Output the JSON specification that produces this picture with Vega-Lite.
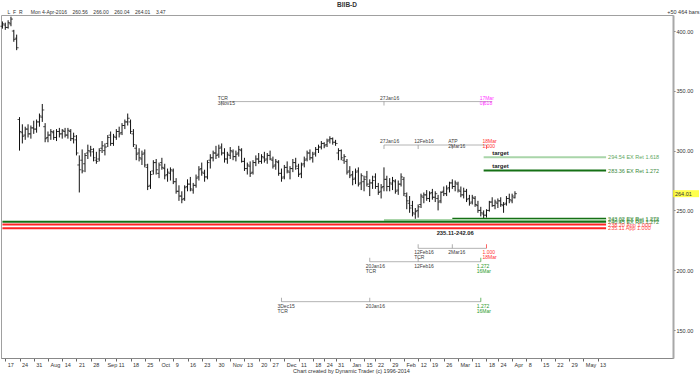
{
  "$schema": "https://vega.github.io/schema/vega-lite/v6.json",
  "width": 672,
  "height": 343,
  "autosize": {"type": "none"},
  "padding": {"left": 1, "top": 15, "right": 27, "bottom": 17},
  "background": "#ffffff",
  "config": {"font": "Liberation Sans", "view": {"stroke": "#a0a0a0", "strokeWidth": 1}},
  "title": {"text": "BIIB-D", "fontSize": 6.5, "fontWeight": "bold", "color": "#333333", "anchor": "middle", "dx": 10, "offset": 1},
  "datasets": {
    "bars": [
      {"date":"2015-07-16","open":404,"high":408,"low":402,"close":406},
      {"date":"2015-07-17","open":405,"high":407,"low":401,"close":403},
      {"date":"2015-07-20","open":403,"high":409,"low":402,"close":407},
      {"date":"2015-07-21","open":406,"high":412,"low":404,"close":410},
      {"date":"2015-07-22","open":400,"high":401,"low":391,"close":393},
      {"date":"2015-07-23","open":394,"high":397,"low":384,"close":386},
      {"date":"2015-07-24","open":326,"high":328,"low":300,"close":316},
      {"date":"2015-07-27","open":315,"high":322,"low":306,"close":312},
      {"date":"2015-07-28","open":313,"high":320,"low":309,"close":318},
      {"date":"2015-07-29","open":318,"high":322,"low":311,"close":314},
      {"date":"2015-07-30","open":314,"high":321,"low":310,"close":319},
      {"date":"2015-07-31","open":319,"high":325,"low":314,"close":318},
      {"date":"2015-08-03","open":318,"high":326,"low":315,"close":324},
      {"date":"2015-08-04","open":324,"high":331,"low":320,"close":329},
      {"date":"2015-08-05","open":328,"high":339,"low":324,"close":334},
      {"date":"2015-08-06","open":320,"high":323,"low":307,"close":310},
      {"date":"2015-08-07","open":311,"high":316,"low":307,"close":313},
      {"date":"2015-08-10","open":313,"high":318,"low":309,"close":316},
      {"date":"2015-08-11","open":315,"high":317,"low":309,"close":311},
      {"date":"2015-08-12","open":311,"high":318,"low":308,"close":316},
      {"date":"2015-08-13","open":316,"high":319,"low":311,"close":314},
      {"date":"2015-08-14","open":314,"high":318,"low":310,"close":317},
      {"date":"2015-08-17","open":316,"high":319,"low":311,"close":313},
      {"date":"2015-08-18","open":313,"high":319,"low":310,"close":317},
      {"date":"2015-08-19","open":316,"high":318,"low":308,"close":310},
      {"date":"2015-08-20","open":310,"high":315,"low":306,"close":312},
      {"date":"2015-08-21","open":309,"high":313,"low":296,"close":298},
      {"date":"2015-08-24","open":288,"high":296,"low":265,"close":284},
      {"date":"2015-08-25","open":292,"high":301,"low":281,"close":283},
      {"date":"2015-08-26","open":289,"high":298,"low":282,"close":296},
      {"date":"2015-08-27","open":298,"high":305,"low":293,"close":300},
      {"date":"2015-08-28","open":299,"high":304,"low":295,"close":301},
      {"date":"2015-08-31","open":299,"high":302,"low":291,"close":294},
      {"date":"2015-09-01","open":292,"high":299,"low":289,"close":291},
      {"date":"2015-09-02","open":293,"high":302,"low":291,"close":300},
      {"date":"2015-09-03","open":302,"high":308,"low":298,"close":304},
      {"date":"2015-09-04","open":300,"high":306,"low":296,"close":303},
      {"date":"2015-09-08","open":306,"high":313,"low":303,"close":311},
      {"date":"2015-09-09","open":313,"high":316,"low":304,"close":306},
      {"date":"2015-09-10","open":306,"high":314,"low":304,"close":312},
      {"date":"2015-09-11","open":311,"high":318,"low":309,"close":316},
      {"date":"2015-09-14","open":316,"high":320,"low":311,"close":314},
      {"date":"2015-09-15","open":315,"high":323,"low":313,"close":321},
      {"date":"2015-09-16","open":321,"high":326,"low":318,"close":324},
      {"date":"2015-09-17","open":324,"high":331,"low":321,"close":327},
      {"date":"2015-09-18","open":324,"high":326,"low":314,"close":316},
      {"date":"2015-09-21","open":314,"high":318,"low":303,"close":305},
      {"date":"2015-09-22","open":302,"high":305,"low":292,"close":297},
      {"date":"2015-09-23","open":298,"high":302,"low":291,"close":294},
      {"date":"2015-09-24","open":293,"high":300,"low":288,"close":297},
      {"date":"2015-09-25","open":298,"high":301,"low":286,"close":288},
      {"date":"2015-09-28","open":286,"high":289,"low":267,"close":270},
      {"date":"2015-09-29","open":271,"high":283,"low":268,"close":280},
      {"date":"2015-09-30","open":283,"high":292,"low":280,"close":290},
      {"date":"2015-10-01","open":290,"high":293,"low":280,"close":284},
      {"date":"2015-10-02","open":281,"high":290,"low":277,"close":288},
      {"date":"2015-10-05","open":290,"high":294,"low":284,"close":286},
      {"date":"2015-10-06","open":285,"high":289,"low":276,"close":279},
      {"date":"2015-10-07","open":280,"high":285,"low":274,"close":282},
      {"date":"2015-10-08","open":281,"high":286,"low":275,"close":284},
      {"date":"2015-10-09","open":283,"high":285,"low":272,"close":274},
      {"date":"2015-10-12","open":274,"high":277,"low":264,"close":266},
      {"date":"2015-10-13","open":266,"high":271,"low":258,"close":262},
      {"date":"2015-10-14","open":262,"high":266,"low":256,"close":259},
      {"date":"2015-10-15","open":260,"high":271,"low":258,"close":269},
      {"date":"2015-10-16","open":270,"high":276,"low":266,"close":272},
      {"date":"2015-10-19","open":272,"high":278,"low":266,"close":268},
      {"date":"2015-10-20","open":267,"high":273,"low":264,"close":271},
      {"date":"2015-10-21","open":271,"high":280,"low":269,"close":277},
      {"date":"2015-10-22","open":278,"high":287,"low":275,"close":284},
      {"date":"2015-10-23","open":285,"high":290,"low":279,"close":282},
      {"date":"2015-10-26","open":281,"high":284,"low":274,"close":278},
      {"date":"2015-10-27","open":278,"high":292,"low":276,"close":290},
      {"date":"2015-10-28","open":292,"high":297,"low":285,"close":294},
      {"date":"2015-10-29","open":294,"high":300,"low":291,"close":298},
      {"date":"2015-10-30","open":298,"high":304,"low":293,"close":296},
      {"date":"2015-11-02","open":297,"high":305,"low":294,"close":302},
      {"date":"2015-11-03","open":303,"high":306,"low":296,"close":298},
      {"date":"2015-11-04","open":298,"high":302,"low":290,"close":293},
      {"date":"2015-11-05","open":293,"high":299,"low":289,"close":297},
      {"date":"2015-11-06","open":296,"high":303,"low":293,"close":300},
      {"date":"2015-11-09","open":299,"high":301,"low":292,"close":295},
      {"date":"2015-11-10","open":295,"high":300,"low":291,"close":297},
      {"date":"2015-11-11","open":298,"high":304,"low":295,"close":301},
      {"date":"2015-11-12","open":300,"high":302,"low":290,"close":291},
      {"date":"2015-11-13","open":291,"high":294,"low":283,"close":285},
      {"date":"2015-11-16","open":285,"high":290,"low":280,"close":288},
      {"date":"2015-11-17","open":287,"high":291,"low":278,"close":281},
      {"date":"2015-11-18","open":282,"high":292,"low":280,"close":290},
      {"date":"2015-11-19","open":290,"high":296,"low":287,"close":293},
      {"date":"2015-11-20","open":293,"high":298,"low":289,"close":291},
      {"date":"2015-11-23","open":291,"high":297,"low":289,"close":295},
      {"date":"2015-11-24","open":294,"high":299,"low":290,"close":292},
      {"date":"2015-11-25","open":293,"high":298,"low":289,"close":296},
      {"date":"2015-11-27","open":296,"high":300,"low":292,"close":293},
      {"date":"2015-11-30","open":292,"high":295,"low":285,"close":287},
      {"date":"2015-12-01","open":288,"high":293,"low":284,"close":291},
      {"date":"2015-12-02","open":290,"high":292,"low":279,"close":281},
      {"date":"2015-12-03","open":281,"high":285,"low":274,"close":277},
      {"date":"2015-12-04","open":278,"high":288,"low":276,"close":286},
      {"date":"2015-12-07","open":286,"high":291,"low":281,"close":283},
      {"date":"2015-12-08","open":282,"high":287,"low":276,"close":285},
      {"date":"2015-12-09","open":285,"high":293,"low":282,"close":290},
      {"date":"2015-12-10","open":290,"high":294,"low":284,"close":287},
      {"date":"2015-12-11","open":285,"high":289,"low":278,"close":280},
      {"date":"2015-12-14","open":281,"high":290,"low":277,"close":288},
      {"date":"2015-12-15","open":289,"high":295,"low":286,"close":292},
      {"date":"2015-12-16","open":293,"high":300,"low":291,"close":298},
      {"date":"2015-12-17","open":298,"high":301,"low":292,"close":294},
      {"date":"2015-12-18","open":294,"high":299,"low":290,"close":297},
      {"date":"2015-12-21","open":298,"high":303,"low":295,"close":301},
      {"date":"2015-12-22","open":301,"high":305,"low":298,"close":303},
      {"date":"2015-12-23","open":303,"high":308,"low":301,"close":306},
      {"date":"2015-12-24","open":306,"high":307,"low":302,"close":304},
      {"date":"2015-12-28","open":305,"high":310,"low":303,"close":308},
      {"date":"2015-12-29","open":309,"high":312,"low":306,"close":310},
      {"date":"2015-12-30","open":310,"high":311,"low":305,"close":307},
      {"date":"2015-12-31","open":307,"high":309,"low":304,"close":306},
      {"date":"2016-01-04","open":298,"high":302,"low":292,"close":300},
      {"date":"2016-01-05","open":300,"high":301,"low":292,"close":294},
      {"date":"2016-01-06","open":292,"high":297,"low":289,"close":295},
      {"date":"2016-01-07","open":291,"high":293,"low":280,"close":282},
      {"date":"2016-01-08","open":283,"high":287,"low":277,"close":279},
      {"date":"2016-01-11","open":280,"high":283,"low":271,"close":276},
      {"date":"2016-01-12","open":277,"high":285,"low":272,"close":282},
      {"date":"2016-01-13","open":283,"high":286,"low":270,"close":272},
      {"date":"2016-01-14","open":273,"high":281,"low":267,"close":279},
      {"date":"2016-01-15","open":274,"high":279,"low":266,"close":276},
      {"date":"2016-01-19","open":278,"high":283,"low":270,"close":272},
      {"date":"2016-01-20","open":270,"high":276,"low":262,"close":273},
      {"date":"2016-01-21","open":273,"high":279,"low":268,"close":275},
      {"date":"2016-01-22","open":278,"high":281,"low":268,"close":270},
      {"date":"2016-01-25","open":270,"high":273,"low":263,"close":265},
      {"date":"2016-01-26","open":266,"high":272,"low":260,"close":269},
      {"date":"2016-01-27","open":270,"high":286,"low":266,"close":276},
      {"date":"2016-01-28","open":276,"high":279,"low":266,"close":270},
      {"date":"2016-01-29","open":270,"high":277,"low":266,"close":273},
      {"date":"2016-02-01","open":272,"high":278,"low":267,"close":275},
      {"date":"2016-02-02","open":274,"high":276,"low":264,"close":266},
      {"date":"2016-02-03","open":267,"high":275,"low":263,"close":272},
      {"date":"2016-02-04","open":272,"high":281,"low":270,"close":278},
      {"date":"2016-02-05","open":276,"high":278,"low":262,"close":264},
      {"date":"2016-02-08","open":262,"high":265,"low":251,"close":258},
      {"date":"2016-02-09","open":256,"high":262,"low":248,"close":252},
      {"date":"2016-02-10","open":254,"high":258,"low":245,"close":248},
      {"date":"2016-02-11","open":247,"high":252,"low":243,"close":249},
      {"date":"2016-02-12","open":250,"high":255,"low":244,"close":253},
      {"date":"2016-02-16","open":255,"high":264,"low":252,"close":262},
      {"date":"2016-02-17","open":261,"high":265,"low":256,"close":263},
      {"date":"2016-02-18","open":263,"high":267,"low":258,"close":260},
      {"date":"2016-02-19","open":260,"high":266,"low":257,"close":264},
      {"date":"2016-02-22","open":265,"high":268,"low":259,"close":261},
      {"date":"2016-02-23","open":261,"high":266,"low":257,"close":264},
      {"date":"2016-02-24","open":260,"high":263,"low":250,"close":257},
      {"date":"2016-02-25","open":258,"high":266,"low":256,"close":265},
      {"date":"2016-02-26","open":266,"high":270,"low":262,"close":264},
      {"date":"2016-02-29","open":264,"high":271,"low":262,"close":268},
      {"date":"2016-03-01","open":269,"high":274,"low":265,"close":273},
      {"date":"2016-03-02","open":273,"high":276,"low":268,"close":270},
      {"date":"2016-03-03","open":270,"high":275,"low":266,"close":273},
      {"date":"2016-03-04","open":272,"high":274,"low":265,"close":267},
      {"date":"2016-03-07","open":266,"high":270,"low":261,"close":263},
      {"date":"2016-03-08","open":263,"high":269,"low":260,"close":266},
      {"date":"2016-03-09","open":266,"high":268,"low":257,"close":259},
      {"date":"2016-03-10","open":260,"high":263,"low":254,"close":256},
      {"date":"2016-03-11","open":257,"high":263,"low":255,"close":261},
      {"date":"2016-03-14","open":260,"high":262,"low":253,"close":255},
      {"date":"2016-03-15","open":254,"high":258,"low":248,"close":250},
      {"date":"2016-03-16","open":250,"high":253,"low":245,"close":248},
      {"date":"2016-03-17","open":247,"high":250,"low":243.5,"close":246},
      {"date":"2016-03-18","open":246,"high":251,"low":244,"close":250},
      {"date":"2016-03-21","open":250,"high":258,"low":249,"close":257},
      {"date":"2016-03-22","open":257,"high":261,"low":253,"close":254},
      {"date":"2016-03-23","open":254,"high":259,"low":251,"close":257},
      {"date":"2016-03-24","open":256,"high":260,"low":252,"close":258},
      {"date":"2016-03-28","open":258,"high":261,"low":253,"close":255},
      {"date":"2016-03-29","open":254,"high":257,"low":248,"close":255},
      {"date":"2016-03-30","open":256,"high":262,"low":254,"close":260},
      {"date":"2016-03-31","open":260,"high":264,"low":256,"close":259},
      {"date":"2016-04-01","open":258,"high":264,"low":256,"close":262},
      {"date":"2016-04-04","open":260.56,"high":266,"low":260.04,"close":264.01}
    ],
    "tlines": [
      {"start":"2015-11-03","end":"2016-03-22","price":341},
      {"start":"2016-01-27","end":"2016-03-18","price":304.7},
      {"start":"2016-02-12","end":"2016-03-18","price":218.3},
      {"start":"2016-01-20","end":"2016-03-16","price":207.1},
      {"start":"2015-12-03","end":"2016-03-16","price":173.7}
    ],
    "tmarks": [
      {"date":"2015-11-03","price":341,"side":"up","kind":"date","text":"TCR\n3Nov15"},
      {"date":"2016-01-27","price":341,"side":"up","kind":"date","text":"27Jan16"},
      {"date":"2016-03-17","price":341,"side":"up","kind":"r0618","text":"17Mar\n0.618"},
      {"date":"2016-01-27","price":304.7,"side":"up","kind":"date","text":"27Jan16"},
      {"date":"2016-02-12","price":304.7,"side":"up","kind":"date","text":"12Feb16"},
      {"date":"2016-03-02","price":304.7,"side":"up","kind":"date","text":"ATP\n2Mar16"},
      {"date":"2016-03-18","price":304.7,"side":"up","kind":"r1000","text":"18Mar\n1.000"},
      {"date":"2016-02-12","price":218.3,"side":"down","kind":"date","text":"12Feb16\nTCR"},
      {"date":"2016-03-02","price":218.3,"side":"down","kind":"date","text":"2Mar16"},
      {"date":"2016-03-18","price":218.3,"side":"down","kind":"r1000","text":"1.000\n18Mar"},
      {"date":"2016-01-20","price":207.1,"side":"down","kind":"date","text":"20Jan16\nTCR"},
      {"date":"2016-02-12","price":207.1,"side":"down","kind":"date","text":"12Feb16"},
      {"date":"2016-03-16","price":207.1,"side":"down","kind":"r1272","text":"1.272\n16Mar"},
      {"date":"2015-12-03","price":173.7,"side":"down","kind":"date","text":"3Dec15\nTCR"},
      {"date":"2016-01-20","price":173.7,"side":"down","kind":"date","text":"20Jan16"},
      {"date":"2016-03-16","price":173.7,"side":"down","kind":"r1272","text":"1.272\n16Mar"}
    ],
    "levels": [
      {"start":"2016-03-17","end":"2016-05-18","price":294.54,"kind":"ext1618","label":"294.54 EX Ret 1.618"},
      {"start":"2016-03-17","end":"2016-05-18","price":283.36,"kind":"ext1272","label":"283.36 EX Ret 1.272"},
      {"start":"2016-03-02","end":"2016-05-18","price":243.02,"kind":"ext1272","label":"243.02 EX Ret 1.272"},
      {"start":"2016-01-27","end":"2016-05-18","price":242.06,"kind":"ext1618","label":"242.06 EX Ret 1.618"},
      {"start":"2015-07-16","end":"2016-05-18","price":240.45,"kind":"ext1272","label":"240.45 EX Ret 1.272"},
      {"start":"2015-07-16","end":"2016-05-18","price":238.2,"kind":"app1000","label":"238.20 App 1.000"},
      {"start":"2015-07-16","end":"2016-05-18","price":235.11,"kind":"app1000","label":"235.11 App 1.000"}
    ],
    "targets": [
      {"date":"2016-03-22","price":294.54,"text":"target"},
      {"date":"2016-03-22","price":283.36,"text":"target"}
    ],
    "zone": [
      {"date":"2016-03-03","price":235.11,"text":"235.11-242.06"}
    ],
    "last": [
      {"date":"2016-04-04","close":264.01}
    ]
  },
  "resolve": {"axis": {"x": "independent"}},
  "layer": [
    {
      "resolve": {"scale": {"color": "independent"}},
      "layer": [
        {
          "data": {"name": "bars"},
          "mark": {"type": "rule", "color": "#111111", "strokeWidth": 1},
          "encoding": {
            "x": {
              "field": "date", "type": "ordinal",
              "scale": {"type": "point", "padding": 0.5, "domain": [
                "2015-07-16","2015-07-17","2015-07-20","2015-07-21","2015-07-22","2015-07-23","2015-07-24","2015-07-27","2015-07-28","2015-07-29","2015-07-30","2015-07-31",
                "2015-08-03","2015-08-04","2015-08-05","2015-08-06","2015-08-07","2015-08-10","2015-08-11","2015-08-12","2015-08-13","2015-08-14","2015-08-17","2015-08-18","2015-08-19","2015-08-20","2015-08-21","2015-08-24","2015-08-25","2015-08-26","2015-08-27","2015-08-28","2015-08-31",
                "2015-09-01","2015-09-02","2015-09-03","2015-09-04","2015-09-08","2015-09-09","2015-09-10","2015-09-11","2015-09-14","2015-09-15","2015-09-16","2015-09-17","2015-09-18","2015-09-21","2015-09-22","2015-09-23","2015-09-24","2015-09-25","2015-09-28","2015-09-29","2015-09-30",
                "2015-10-01","2015-10-02","2015-10-05","2015-10-06","2015-10-07","2015-10-08","2015-10-09","2015-10-12","2015-10-13","2015-10-14","2015-10-15","2015-10-16","2015-10-19","2015-10-20","2015-10-21","2015-10-22","2015-10-23","2015-10-26","2015-10-27","2015-10-28","2015-10-29","2015-10-30",
                "2015-11-02","2015-11-03","2015-11-04","2015-11-05","2015-11-06","2015-11-09","2015-11-10","2015-11-11","2015-11-12","2015-11-13","2015-11-16","2015-11-17","2015-11-18","2015-11-19","2015-11-20","2015-11-23","2015-11-24","2015-11-25","2015-11-27","2015-11-30",
                "2015-12-01","2015-12-02","2015-12-03","2015-12-04","2015-12-07","2015-12-08","2015-12-09","2015-12-10","2015-12-11","2015-12-14","2015-12-15","2015-12-16","2015-12-17","2015-12-18","2015-12-21","2015-12-22","2015-12-23","2015-12-24","2015-12-28","2015-12-29","2015-12-30","2015-12-31",
                "2016-01-04","2016-01-05","2016-01-06","2016-01-07","2016-01-08","2016-01-11","2016-01-12","2016-01-13","2016-01-14","2016-01-15","2016-01-19","2016-01-20","2016-01-21","2016-01-22","2016-01-25","2016-01-26","2016-01-27","2016-01-28","2016-01-29",
                "2016-02-01","2016-02-02","2016-02-03","2016-02-04","2016-02-05","2016-02-08","2016-02-09","2016-02-10","2016-02-11","2016-02-12","2016-02-16","2016-02-17","2016-02-18","2016-02-19","2016-02-22","2016-02-23","2016-02-24","2016-02-25","2016-02-26","2016-02-29",
                "2016-03-01","2016-03-02","2016-03-03","2016-03-04","2016-03-07","2016-03-08","2016-03-09","2016-03-10","2016-03-11","2016-03-14","2016-03-15","2016-03-16","2016-03-17","2016-03-18","2016-03-21","2016-03-22","2016-03-23","2016-03-24","2016-03-28","2016-03-29","2016-03-30","2016-03-31",
                "2016-04-01","2016-04-04","2016-04-05","2016-04-06","2016-04-07","2016-04-08","2016-04-11","2016-04-12","2016-04-13","2016-04-14","2016-04-15","2016-04-18","2016-04-19","2016-04-20","2016-04-21","2016-04-22","2016-04-25","2016-04-26","2016-04-27","2016-04-28","2016-04-29",
                "2016-05-02","2016-05-03","2016-05-04","2016-05-05","2016-05-06","2016-05-09","2016-05-10","2016-05-11","2016-05-12","2016-05-13","2016-05-16","2016-05-17","2016-05-18","2016-05-19","2016-05-20","2016-05-23","2016-05-24","2016-05-25","2016-05-26","2016-05-27","2016-05-31",
                "2016-06-01","2016-06-02","2016-06-03","2016-06-06","2016-06-07","2016-06-08","2016-06-09","2016-06-10","2016-06-13","2016-06-14","2016-06-15","2016-06-16","2016-06-17","2016-06-20","2016-06-21"
              ]},
              "axis": {
                "orient": "bottom",
                "values": ["2015-07-17","2015-07-24","2015-07-31","2015-08-07","2015-08-14","2015-08-21","2015-08-28","2015-09-04","2015-09-11","2015-09-18","2015-09-25","2015-10-02","2015-10-09","2015-10-16","2015-10-23","2015-10-30","2015-11-06","2015-11-13","2015-11-20","2015-11-27","2015-12-04","2015-12-11","2015-12-18","2015-12-24","2015-12-31","2016-01-08","2016-01-15","2016-01-22","2016-01-29","2016-02-05","2016-02-12","2016-02-19","2016-02-26","2016-03-04","2016-03-11","2016-03-18","2016-03-24","2016-04-01","2016-04-08","2016-04-15","2016-04-22","2016-04-29","2016-05-06","2016-05-13"],
                "labelExpr": "(utcdate(toDate(datum.value)) <= 7 || datum.value == '2016-01-08') ? utcFormat(toDate(datum.value), '%b') : utcFormat(toDate(datum.value), '%-d')",
                "labelAngle": 0,
                "labelAlign": "left",
                "labelBaseline": "top",
                "labelOffset": 2,
                "labelPadding": 1,
                "labelFontSize": 5.5,
                "labelColor": "#333333",
                "tickSize": 3,
                "tickColor": "#666666",
                "domainColor": "#888888",
                "grid": false,
                "title": "Chart created by Dynamic Trader  (c) 1996-2014",
                "titleFontSize": 5.5,
                "titleFontWeight": "normal",
                "titleColor": "#333333",
                "titleX": 350,
                "titleY": 12,
                "titleAlign": "center",
                "titleBaseline": "middle"
              }
            },
            "y": {
              "field": "low", "type": "quantitative",
              "scale": {"domain": [126.6, 413.4], "nice": false, "zero": false},
              "axis": {
                "orient": "right",
                "values": [150, 200, 250, 300, 350, 400],
                "format": ".2f",
                "labelFontSize": 5.5,
                "labelColor": "#333333",
                "labelPadding": 1,
                "tickSize": 2,
                "tickColor": "#777777",
                "domainColor": "#a8a8a8",
                "domainWidth": 2,
                "grid": false,
                "title": "+50  464 bars",
                "titleAngle": 0,
                "titleFontSize": 5.5,
                "titleFontWeight": "normal",
                "titleColor": "#333333",
                "titleX": 26,
                "titleY": -4,
                "titleAlign": "right",
                "titleBaseline": "middle"
              }
            },
            "y2": {"field": "high"}
          }
        },
        {
          "data": {"name": "bars"},
          "mark": {"type": "tick", "color": "#111111", "size": 2, "thickness": 1, "xOffset": -1},
          "encoding": {
            "x": {"field": "date", "type": "ordinal"},
            "y": {"field": "open", "type": "quantitative"}
          }
        },
        {
          "data": {"name": "bars"},
          "mark": {"type": "tick", "color": "#111111", "size": 2, "thickness": 1, "xOffset": 1},
          "encoding": {
            "x": {"field": "date", "type": "ordinal"},
            "y": {"field": "close", "type": "quantitative"}
          }
        },
        {
          "data": {"name": "tlines"},
          "mark": {"type": "rule", "color": "#b4b4b4", "strokeWidth": 1},
          "encoding": {
            "x": {"field": "start", "type": "ordinal"},
            "x2": {"field": "end"},
            "y": {"field": "price", "type": "quantitative"}
          }
        },
        {
          "data": {"name": "tmarks"},
          "transform": [{"filter": "datum.side == 'up'"}],
          "mark": {"type": "tick", "orient": "vertical", "size": 4, "thickness": 1, "yOffset": 2},
          "encoding": {
            "x": {"field": "date", "type": "ordinal"},
            "y": {"field": "price", "type": "quantitative"},
            "color": {"field": "kind", "type": "nominal", "legend": null, "scale": {"domain": ["date", "r0618", "r1000", "r1272"], "range": ["#8c8c8c", "#ff33ff", "#ff2020", "#2a9a2a"]}}
          }
        },
        {
          "data": {"name": "tmarks"},
          "transform": [{"filter": "datum.side == 'down'"}],
          "mark": {"type": "tick", "orient": "vertical", "size": 4, "thickness": 1, "yOffset": -2},
          "encoding": {
            "x": {"field": "date", "type": "ordinal"},
            "y": {"field": "price", "type": "quantitative"},
            "color": {"field": "kind", "type": "nominal", "legend": null, "scale": {"domain": ["date", "r0618", "r1000", "r1272"], "range": ["#8c8c8c", "#ff33ff", "#ff2020", "#2a9a2a"]}}
          }
        },
        {
          "data": {"name": "tmarks"},
          "transform": [{"filter": "datum.side == 'up'"}],
          "mark": {"type": "text", "align": "left", "baseline": "bottom", "dx": -4, "dy": -1, "fontSize": 5, "lineBreak": "\n", "lineHeight": 5},
          "encoding": {
            "x": {"field": "date", "type": "ordinal"},
            "y": {"field": "price", "type": "quantitative"},
            "text": {"field": "text"},
            "color": {"field": "kind", "type": "nominal", "legend": null, "scale": {"domain": ["date", "r0618", "r1000", "r1272"], "range": ["#3c3c3c", "#ff33ff", "#ff3030", "#2a9a2a"]}}
          }
        },
        {
          "data": {"name": "tmarks"},
          "transform": [{"filter": "datum.side == 'down'"}],
          "mark": {"type": "text", "align": "left", "baseline": "top", "dx": -4, "dy": 2, "fontSize": 5, "lineBreak": "\n", "lineHeight": 5},
          "encoding": {
            "x": {"field": "date", "type": "ordinal"},
            "y": {"field": "price", "type": "quantitative"},
            "text": {"field": "text"},
            "color": {"field": "kind", "type": "nominal", "legend": null, "scale": {"domain": ["date", "r0618", "r1000", "r1272"], "range": ["#3c3c3c", "#ff33ff", "#ff3030", "#2a9a2a"]}}
          }
        },
        {
          "data": {"name": "levels"},
          "mark": {"type": "rule", "strokeWidth": 2},
          "encoding": {
            "x": {"field": "start", "type": "ordinal"},
            "x2": {"field": "end"},
            "y": {"field": "price", "type": "quantitative"},
            "color": {"field": "kind", "type": "nominal", "legend": null, "scale": {"domain": ["ext1618", "ext1272", "app1000"], "range": ["#a9d5a9", "#157015", "#ff2424"]}}
          }
        },
        {
          "data": {"name": "levels"},
          "mark": {"type": "text", "align": "left", "baseline": "middle", "dx": 2, "fontSize": 5.5},
          "encoding": {
            "x": {"field": "end", "type": "ordinal"},
            "y": {"field": "price", "type": "quantitative"},
            "text": {"field": "label"},
            "color": {"field": "kind", "type": "nominal", "legend": null, "scale": {"domain": ["ext1618", "ext1272", "app1000"], "range": ["#5fa85f", "#3b8a3b", "#ff4545"]}}
          }
        },
        {
          "data": {"name": "targets"},
          "mark": {"type": "text", "align": "left", "baseline": "bottom", "dy": -1.5, "fontSize": 6, "fontWeight": "bold", "color": "#222222"},
          "encoding": {
            "x": {"field": "date", "type": "ordinal"},
            "y": {"field": "price", "type": "quantitative"},
            "text": {"field": "text"}
          }
        },
        {
          "data": {"name": "zone"},
          "mark": {"type": "text", "align": "center", "baseline": "top", "dy": 2, "fontSize": 5.8, "fontWeight": "bold", "color": "#222222"},
          "encoding": {
            "x": {"field": "date", "type": "ordinal"},
            "y": {"field": "price", "type": "quantitative"},
            "text": {"field": "text"}
          }
        },
        {
          "data": {"name": "last"},
          "mark": {"type": "tick", "color": "#ffff00", "size": 26, "thickness": 7, "xOffset": 13},
          "encoding": {
            "x": {"value": "width"},
            "y": {"field": "close", "type": "quantitative"}
          }
        },
        {
          "data": {"name": "last"},
          "mark": {"type": "text", "align": "left", "baseline": "middle", "dx": 2, "fontSize": 5.5, "color": "#333333"},
          "encoding": {
            "x": {"value": "width"},
            "y": {"field": "close", "type": "quantitative"},
            "text": {"field": "close", "format": ".2f"}
          }
        }
      ]
    },
    {
      "data": {"name": "last"},
      "mark": {"type": "point", "opacity": 0},
      "encoding": {
        "x": {
          "field": "date", "type": "ordinal",
          "axis": {
            "orient": "top",
            "labels": false,
            "ticks": false,
            "domain": false,
            "offset": 4,
            "title": "L\u00a0\u00a0F\u00a0\u00a0R\u00a0\u00a0\u00a0\u00a0\u00a0\u00a0Mon 4-Apr-2016\u00a0\u00a0\u00a0\u00a0260.56\u00a0\u00a0\u00a0\u00a0266.00\u00a0\u00a0\u00a0\u00a0260.04\u00a0\u00a0\u00a0\u00a0264.01\u00a0\u00a0\u00a0\u00a03.47",
            "titleFontSize": 5,
            "titleFontWeight": "normal",
            "titleColor": "#333333",
            "titleAnchor": "start",
            "titleAlign": "left",
            "titleX": 6,
            "titleY": 0,
            "titleBaseline": "middle"
          }
        }
      }
    }
  ]
}
